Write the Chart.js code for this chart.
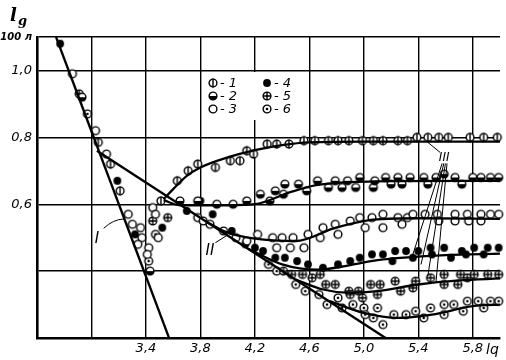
<!DOCTYPE html>
<html>
<head>
<meta charset="utf-8">
<script src="https://cdn.jsdelivr.net/npm/chart.js@4.4.1/dist/chart.umd.min.js"></script>
<style>
  html, body { margin: 0; padding: 0; background: #fff; }
  canvas { display: block; }
</style>
</head>
<body>
<canvas id="chart" width="506" height="360"></canvas>
<script>
// tick labels
const xTicks = [3.0, 3.4, 3.8, 4.2, 4.6, 5.0, 5.4, 5.8];
const xTickLabels = ['', '3,4', '3,8', '4,2', '4,6', '5,0', '5,4', '5,8'];
const yTicks = [0.4, 0.6, 0.8, 1.0, 1.1];
const yTickLabels = ['', '0,6', '0,8', '1,0', '100 л'];

// straight lines I and II
const lineI = [[2.74, 1.10], [3.57, 0.20]];
const lineII = [[3.04, 0.76], [5.16, 0.20]];

// curves III (one per series)
const curve1 = [[3.53, 0.615], [3.60, 0.645], [3.70, 0.685], [3.80, 0.71], [4.00, 0.74], [4.20, 0.762], [4.40, 0.777], [4.60, 0.785], [5.00, 0.787], [6.00, 0.787]];
const curve2 = [[3.53, 0.612], [3.65, 0.597], [4.00, 0.597], [4.20, 0.600], [4.46, 0.636], [4.65, 0.657], [4.90, 0.666], [5.20, 0.669], [6.00, 0.670]];
const curve3 = [[3.85, 0.546], [4.00, 0.515], [4.20, 0.497], [4.50, 0.490], [4.78, 0.528], [5.03, 0.552], [5.40, 0.558], [6.00, 0.556]];
const curve4 = [[4.15, 0.467], [4.40, 0.420], [4.66, 0.404], [4.90, 0.418], [5.10, 0.433], [5.60, 0.448], [6.00, 0.452]];
const curve5 = [[4.50, 0.375], [4.70, 0.345], [4.90, 0.335], [5.10, 0.340], [5.40, 0.360], [5.70, 0.372], [6.00, 0.378]];
const curve6 = [[4.75, 0.310], [5.00, 0.275], [5.25, 0.260], [5.50, 0.270], [5.80, 0.295], [6.00, 0.300]];

// measured points, series 1..6
const pts1 = [[3.05, 0.785], [3.14, 0.72], [3.21, 0.64], [3.51, 0.61], [3.63, 0.67], [3.71, 0.70], [3.78, 0.72], [3.91, 0.71], [4.02, 0.73], [4.09, 0.73], [4.14, 0.76], [4.19, 0.75], [4.29, 0.78], [4.36, 0.78], [4.45, 0.78], [4.56, 0.79], [4.64, 0.79], [4.74, 0.79], [4.81, 0.79], [4.89, 0.79], [4.99, 0.79], [5.07, 0.79], [5.14, 0.79], [5.25, 0.79], [5.32, 0.79], [5.39, 0.80], [5.47, 0.80], [5.55, 0.80], [5.62, 0.80], [5.78, 0.80], [5.88, 0.80], [5.98, 0.80]];
const pts2 = [[2.93, 0.92], [3.43, 0.40], [3.65, 0.61], [3.78, 0.61], [3.92, 0.60], [4.04, 0.60], [4.14, 0.61], [4.24, 0.63], [4.31, 0.61], [4.35, 0.64], [4.41, 0.63], [4.42, 0.66], [4.52, 0.66], [4.58, 0.64], [4.66, 0.67], [4.74, 0.65], [4.79, 0.67], [4.84, 0.65], [4.88, 0.67], [4.94, 0.65], [4.97, 0.68], [5.07, 0.65], [5.08, 0.67], [5.16, 0.68], [5.20, 0.66], [5.25, 0.68], [5.28, 0.66], [5.34, 0.68], [5.44, 0.68], [5.47, 0.66], [5.53, 0.68], [5.59, 0.69], [5.67, 0.68], [5.72, 0.66], [5.80, 0.68], [5.86, 0.68], [5.93, 0.68], [5.99, 0.68]];
const pts3 = [[2.86, 0.99], [3.03, 0.82], [3.11, 0.75], [3.27, 0.57], [3.30, 0.54], [3.36, 0.53], [3.37, 0.50], [3.34, 0.48], [3.42, 0.47], [3.41, 0.45], [3.49, 0.50], [3.45, 0.59], [3.47, 0.57], [3.78, 0.56], [3.82, 0.55], [3.87, 0.54], [3.97, 0.52], [4.06, 0.50], [4.14, 0.49], [4.22, 0.51], [4.33, 0.50], [4.40, 0.50], [4.48, 0.50], [4.36, 0.47], [4.46, 0.47], [4.56, 0.47], [4.59, 0.51], [4.68, 0.50], [4.70, 0.53], [4.79, 0.54], [4.81, 0.51], [4.90, 0.55], [4.97, 0.56], [5.01, 0.53], [5.06, 0.56], [5.14, 0.57], [5.14, 0.53], [5.25, 0.56], [5.28, 0.54], [5.32, 0.56], [5.36, 0.57], [5.45, 0.57], [5.54, 0.57], [5.55, 0.55], [5.67, 0.57], [5.67, 0.55], [5.76, 0.57], [5.77, 0.55], [5.86, 0.57], [5.86, 0.55], [5.93, 0.57], [5.99, 0.57]];
const pts4 = [[2.77, 1.08], [3.19, 0.67], [3.32, 0.51], [3.52, 0.53], [3.70, 0.58], [3.80, 0.61], [3.89, 0.57], [4.03, 0.52], [4.13, 0.48], [4.20, 0.47], [4.26, 0.46], [4.35, 0.44], [4.42, 0.44], [4.51, 0.43], [4.59, 0.42], [4.70, 0.41], [4.81, 0.42], [4.90, 0.43], [4.97, 0.44], [5.06, 0.45], [5.14, 0.45], [5.21, 0.43], [5.23, 0.46], [5.31, 0.46], [5.36, 0.44], [5.40, 0.46], [5.49, 0.47], [5.50, 0.45], [5.59, 0.47], [5.64, 0.44], [5.72, 0.46], [5.75, 0.45], [5.81, 0.47], [5.88, 0.45], [5.91, 0.47], [5.99, 0.47]];
const pts5 = [[2.91, 0.93], [3.45, 0.55], [3.56, 0.56], [4.41, 0.40], [4.47, 0.39], [4.55, 0.39], [4.62, 0.38], [4.68, 0.39], [4.72, 0.36], [4.79, 0.36], [4.89, 0.34], [4.90, 0.33], [4.96, 0.34], [4.99, 0.32], [5.05, 0.36], [5.10, 0.33], [5.12, 0.36], [5.23, 0.37], [5.27, 0.34], [5.36, 0.35], [5.38, 0.37], [5.49, 0.38], [5.59, 0.39], [5.59, 0.36], [5.69, 0.36], [5.71, 0.39], [5.76, 0.38], [5.81, 0.39], [5.91, 0.39], [5.99, 0.39]];
const pts6 = [[2.97, 0.87], [3.42, 0.43], [3.47, 0.51], [4.30, 0.42], [4.36, 0.40], [4.50, 0.36], [4.57, 0.34], [4.67, 0.33], [4.73, 0.30], [4.81, 0.32], [4.84, 0.29], [4.92, 0.30], [5.00, 0.29], [5.01, 0.27], [5.07, 0.26], [5.10, 0.29], [5.14, 0.24], [5.22, 0.27], [5.31, 0.27], [5.38, 0.28], [5.44, 0.26], [5.49, 0.29], [5.59, 0.27], [5.59, 0.30], [5.66, 0.30], [5.73, 0.28], [5.76, 0.31], [5.84, 0.31], [5.88, 0.29], [5.93, 0.31], [5.99, 0.31]];

const seriesNames = ['1', '2', '3', '4', '5', '6'];

const FONT = '"DejaVu Sans", sans-serif';
const toXY = arr => arr.map(p => ({ x: p[0], y: p[1] }));

// маркеры (small canvases used as pointStyle)
function makeMarker(kind) {
  const c = document.createElement('canvas');
  c.width = 12; c.height = 12;
  const g = c.getContext('2d');
  const r = 3.9;
  g.strokeStyle = '#000';
  g.fillStyle = '#000';
  g.lineWidth = 1.4;
  g.beginPath();
  g.arc(6, 6, r, 0, Math.PI * 2);
  if (kind === 4) { g.fill(); return c; }
  g.fillStyle = '#fff';
  g.fill();
  g.stroke();
  g.fillStyle = '#000';
  if (kind === 1) {
    g.beginPath(); g.moveTo(6, 1.5); g.lineTo(6, 10.5); g.stroke();
  } else if (kind === 2) {
    g.beginPath(); g.arc(6, 6, r, 0, Math.PI); g.closePath(); g.fill();
  } else if (kind === 5) {
    g.beginPath(); g.moveTo(6, 2); g.lineTo(6, 10); g.moveTo(2, 6); g.lineTo(10, 6); g.stroke();
  } else if (kind === 6) {
    g.beginPath(); g.arc(6, 6, 1.3, 0, Math.PI * 2); g.fill();
  }
  return c;
}
const markers = [1, 2, 3, 4, 5, 6].map(makeMarker);

const lineDs = (arr, smooth) => ({
  type: 'line',
  data: toXY(arr),
  showLine: true,
  borderColor: '#000',
  borderWidth: 2.3,
  pointRadius: 0,
  fill: false,
  tension: 0,
  cubicInterpolationMode: smooth ? 'monotone' : 'default',
  clip: false
});

const ptsDs = (arr, i) => ({
  type: 'scatter',
  label: seriesNames[i],
  data: toXY(arr),
  pointStyle: markers[i],
  pointRadius: 5,
  clip: false
});

// подписи I, II, III, легенда, заголовки осей
const overlay = {
  id: 'overlay',
  afterDatasetsDraw(chart) {
    const ctx = chart.ctx;
    const xs = chart.scales.x, ys = chart.scales.y;
    const px = v => xs.getPixelForValue(v);
    const py = v => ys.getPixelForValue(v);
    const area = chart.chartArea;
    ctx.save();
    ctx.strokeStyle = '#000';
    ctx.fillStyle = '#000';

    // legend box
    const lx = area.left + 167, ly = area.top + 35;
    ctx.fillStyle = '#fff';
    ctx.fillRect(lx, ly, 102, 48);
    ctx.fillStyle = '#000';
    ctx.font = 'italic 13px ' + FONT;
    ctx.textBaseline = 'middle';
    for (let i = 0; i < 6; i++) {
      const col = Math.floor(i / 3), row = i % 3;
      const mx = lx + 9 + col * 54, my = ly + 11 + row * 13;
      ctx.drawImage(markers[i], mx - 6, my - 6);
      ctx.fillText('- ' + seriesNames[i], mx + 7, my + 1);
    }

    // labels of lines
    ctx.lineWidth = 1;
    ctx.font = 'italic 15px ' + FONT;
    ctx.textAlign = 'center';
    ctx.fillText('I', px(3.04), py(0.495));
    ctx.beginPath();
    ctx.moveTo(px(3.09), py(0.528));
    ctx.quadraticCurveTo(px(3.16), py(0.555), px(3.24), py(0.556));
    ctx.stroke();

    ctx.fillText('II', px(3.87), py(0.46));
    ctx.beginPath();
    ctx.moveTo(px(3.91), py(0.485));
    ctx.lineTo(px(4.0), py(0.508));
    ctx.stroke();

    ctx.font = 'italic 12px ' + FONT;
    ctx.fillText('III', px(5.59), py(0.74));
    ctx.beginPath();
    ctx.moveTo(px(5.56), py(0.755));
    ctx.lineTo(px(5.47), py(0.785));
    const ends = [[5.36, 0.45], [5.42, 0.42], [5.47, 0.385], [5.53, 0.367]];
    ends.forEach((e, k) => {
      ctx.moveTo(px(5.575 + k * 0.012), py(0.722));
      ctx.lineTo(px(e[0]), py(e[1]));
    });
    ctx.stroke();

    // axis titles
    ctx.textAlign = 'left';
    ctx.textBaseline = 'alphabetic';
    ctx.font = 'bold italic 18px "DejaVu Serif", serif';
    ctx.fillText('l', 10, 21);
    ctx.font = 'bold italic 13px "DejaVu Serif", serif';
    ctx.fillText('g', 18, 25);
    ctx.font = 'italic 14px ' + FONT;
    ctx.fillText('lq', area.right - 14, area.bottom + 16);
    ctx.restore();
  }
};

new Chart(document.getElementById('chart'), {
  type: 'scatter',
  data: {
    datasets: [
      lineDs(lineI, false),
      lineDs(lineII, false),
      lineDs(curve1, true),
      lineDs(curve2, true),
      lineDs(curve3, true),
      lineDs(curve4, true),
      lineDs(curve5, true),
      lineDs(curve6, true),
      ptsDs(pts1, 0),
      ptsDs(pts2, 1),
      ptsDs(pts3, 2),
      ptsDs(pts4, 3),
      ptsDs(pts5, 4),
      ptsDs(pts6, 5)
    ]
  },
  options: {
    responsive: false,
    animation: false,
    devicePixelRatio: 1,
    layout: { padding: { top: 37, right: 5, left: 0, bottom: 0 } },
    plugins: { legend: { display: false }, tooltip: { enabled: false } },
    scales: {
      x: {
        type: 'linear',
        min: 2.6,
        max: 6.0,
        afterBuildTicks: s => { s.ticks = xTicks.map(v => ({ value: v })); },
        afterFit: s => { s.height = 22; },
        ticks: {
          padding: 3,
          color: '#000',
          font: { family: FONT, size: 13, style: 'italic' },
          maxRotation: 0,
          autoSkip: false,
          callback: v => xTickLabels[xTicks.indexOf(Math.round(v * 10) / 10)] ?? ''
        },
        grid: { color: '#000', lineWidth: 1.4, drawTicks: false },
        border: { display: true, color: '#000', width: 2.6 }
      },
      y: {
        type: 'linear',
        min: 0.2,
        max: 1.1,
        afterBuildTicks: s => { s.ticks = yTicks.map(v => ({ value: v })); },
        afterFit: s => { s.width = 37; },
        ticks: {
          padding: 5,
          color: '#000',
          font: c => (c.tick && c.tick.value > 1.05)
            ? { family: FONT, size: 10, style: 'italic', weight: 'bold' }
            : { family: FONT, size: 13, style: 'italic' },
          autoSkip: false,
          callback: v => yTickLabels[yTicks.indexOf(Math.round(v * 10) / 10)] ?? ''
        },
        grid: { color: '#000', lineWidth: 1.4, drawTicks: false },
        border: { display: true, color: '#000', width: 2.6 }
      }
    }
  },
  plugins: [overlay]
});
</script>
</body>
</html>
